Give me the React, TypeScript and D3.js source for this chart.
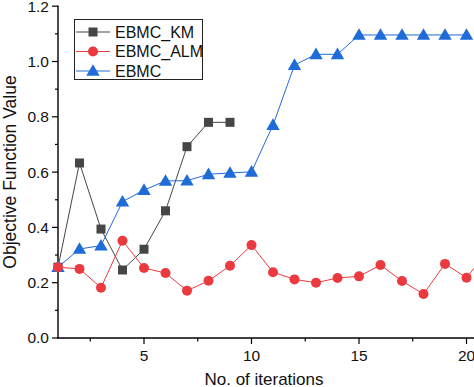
import React from "react";
import * as d3 from "d3";

const iterations = d3.range(1, 22);
const kmX = [1, 2, 3, 4, 5, 6, 7, 8, 9];
const kmValues = [0.256, 0.633, 0.394, 0.246, 0.321, 0.46, 0.692, 0.78, 0.78];
const almValues = [0.256, 0.25, 0.182, 0.352, 0.253, 0.235, 0.171, 0.207, 0.261, 0.336, 0.238, 0.212, 0.2, 0.217, 0.223, 0.264, 0.206, 0.159, 0.268, 0.218, 0.316];
const ebmcX = d3.range(1, 21);
const ebmcValues = [0.256, 0.322, 0.334, 0.493, 0.535, 0.568, 0.569, 0.592, 0.597, 0.601, 0.77, 0.987, 1.026, 1.026, 1.096, 1.096, 1.096, 1.096, 1.096, 1.096];
const xTicks = [5, 10, 15, 20];
const xMinor = [2.5, 7.5, 12.5, 17.5];
const yTicks = [0, 0.2, 0.4, 0.6, 0.8, 1.0, 1.2];
const yMinor = [0.1, 0.3, 0.5, 0.7, 0.9, 1.1];
const seriesNames = ["EBMC_KM", "EBMC_ALM", "EBMC"];
const seriesColors = ["#464646", "#ea3a3f", "#1f6bd8"];

const W = 474, H = 387;
const x = d3.scaleLinear().domain([1, 21]).range([58, 488]);
const y = d3.scaleLinear().domain([0, 1.2]).range([338, 6.2]);
const font = "'Liberation Sans', Arial, sans-serif";

function Marker({ type, cx, cy, color }: { type: number; cx: number; cy: number; color: string }) {
  if (type === 0) return <rect x={cx - 4.5} y={cy - 4.5} width={9} height={9} fill={color} />;
  if (type === 1) return <circle cx={cx} cy={cy} r={5} fill={color} />;
  const s = d3.symbol().type(d3.symbolTriangle).size(78)();
  return <path d={s || ""} transform={`translate(${cx},${cy + 1})`} fill={color} />;
}

export default function App() {
  const line = d3.line<[number, number]>().x((d) => x(d[0])).y((d) => y(d[1]));
  const series = [
    kmX.map((v, i) => [v, kmValues[i]] as [number, number]),
    iterations.map((v, i) => [v, almValues[i]] as [number, number]),
    ebmcX.map((v, i) => [v, ebmcValues[i]] as [number, number]),
  ];
  const order = [0, 2, 1];
  return (
    <svg width={W} height={H} style={{ position: "absolute", left: 0, top: 0, background: "#fff" }} fontFamily={font}>
      <defs>
        <clipPath id="clip"><rect x={0} y={0} width={W} height={H} /></clipPath>
      </defs>
      {/* axes */}
      <line x1={58} x2={58} y1={5.5} y2={338.5} stroke="#000" strokeWidth={1.4} />
      <line x1={57.3} x2={W} y1={338} y2={338} stroke="#000" strokeWidth={1.4} />
      {yTicks.map((t) => (
        <g key={t}>
          <line x1={52} x2={58} y1={y(t)} y2={y(t)} stroke="#000" strokeWidth={1.2} />
          <text x={49} y={y(t)} dy="0.35em" textAnchor="end" fontSize={15.5} fill="#111">{t.toFixed(1)}</text>
        </g>
      ))}
      {yMinor.map((t) => (
        <line key={t} x1={55} x2={58} y1={y(t)} y2={y(t)} stroke="#000" strokeWidth={1.2} />
      ))}
      {xTicks.map((t) => (
        <g key={t}>
          <line x1={x(t)} x2={x(t)} y1={338} y2={344} stroke="#000" strokeWidth={1.2} />
          <text x={x(t)} y={361} textAnchor="middle" fontSize={15.5} fill="#111">{t}</text>
        </g>
      ))}
      {xMinor.map((t) => (
        <line key={t} x1={x(t)} x2={x(t)} y1={338} y2={341.5} stroke="#000" strokeWidth={1.2} />
      ))}
      <text x={264} y={385} textAnchor="middle" fontSize={17} fill="#111">No. of iterations</text>
      <text transform="translate(16,172) rotate(-90)" textAnchor="middle" fontSize={17.5} fill="#111">Objective Function Value</text>
      {/* data */}
      <g clipPath="url(#clip)">
        {order.map((si) => (
          <g key={si}>
            <path d={line(series[si]) || ""} fill="none" stroke={seriesColors[si]} strokeWidth={1} />
            {series[si].map((p, i) => (
              <Marker key={i} type={si} cx={x(p[0])} cy={y(p[1])} color={seriesColors[si]} />
            ))}
          </g>
        ))}
      </g>
      {/* legend */}
      <rect x={74.5} y={19.5} width={128} height={60} fill="#fff" stroke="#222" strokeWidth={1} />
      {seriesNames.map((n, i) => {
        const ly = 32 + i * 19.5;
        return (
          <g key={n}>
            <line x1={76} x2={110} y1={ly} y2={ly} stroke={seriesColors[i]} strokeWidth={1} />
            <Marker type={i} cx={93} cy={ly} color={seriesColors[i]} />
            <text x={115} y={ly} dy="0.35em" fontSize={16} fill="#111">{n}</text>
          </g>
        );
      })}
    </svg>
  );
}
